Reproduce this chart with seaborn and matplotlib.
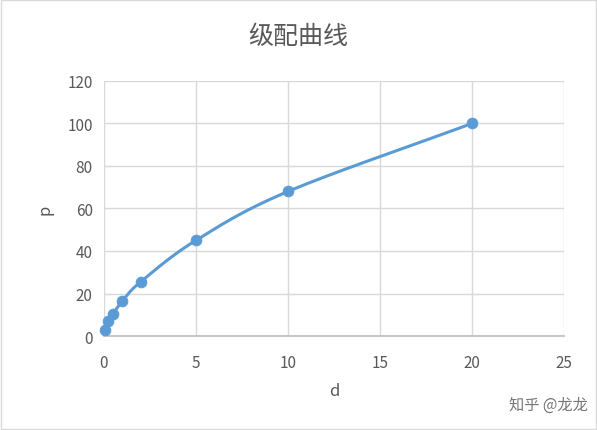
import numpy as np
import matplotlib
matplotlib.use("Agg")
import matplotlib.pyplot as plt
import seaborn as sns
import pandas as pd

d = [0.075, 0.25, 0.5, 1, 2, 5, 10, 20]
p = [3, 7, 10.5, 16.5, 25.5, 45, 68, 100]
title = "级配曲线"

sns.set_theme(style="white")
plt.rcParams['font.family'] = ['Noto Sans CJK SC', 'DejaVu Sans']

fig = plt.figure(figsize=(5.97, 4.31), dpi=100)
ax = fig.add_axes([0.174, 0.218, 0.771, 0.592])
c = "#5B9BD5"

# Catmull-Rom smooth curve through the points (like Excel smoothed line)
P = np.column_stack([d, p]).astype(float)
ext = np.vstack([2*P[0]-P[1], P, 2*P[-1]-P[-2]])
xs, ys = [], []
t = np.linspace(0, 1, 30)
for i in range(1, len(ext)-2):
    p0, p1, p2, p3 = ext[i-1], ext[i], ext[i+1], ext[i+2]
    pts = 0.5*((2*p1)[None] + np.outer(t, -p0+p2) + np.outer(t**2, 2*p0-5*p1+4*p2-p3) + np.outer(t**3, -p0+3*p1-3*p2+p3))
    xs.extend(pts[:, 0]); ys.extend(pts[:, 1])
ax.plot(xs, ys, color=c, lw=2.2, clip_on=False)
sns.scatterplot(data=pd.DataFrame({"d": d, "p": p}), x="d", y="p", ax=ax, color=c, s=60, edgecolor=c, zorder=3, clip_on=False)

ax.set_xlim(0, 25); ax.set_ylim(0, 120)
ax.set_xticks(range(0, 26, 5)); ax.set_yticks(range(0, 121, 20))
ax.grid(True, color="#D9D9D9", lw=1)
for s in ["top", "right", "left"]:
    ax.spines[s].set_visible(False)
ax.spines["bottom"].set_color("#BFBFBF")
ax.tick_params(colors="#595959", labelsize=11, length=0)
ax.tick_params(axis="x", pad=13)
ax.tick_params(axis="y", pad=8)
ax.set_xlabel("d", fontsize=12, color="#595959", labelpad=8)
ax.set_ylabel("p", fontsize=12, color="#595959", labelpad=10)
fig.text(0.5, 0.915, title, ha="center", va="center", fontsize=18, color="#595959")
fig.text(0.918, 0.06, "知乎 @龙龙", ha="center", va="center", fontsize=11, color="#777777")
fig.patches.append(plt.Rectangle((0.001, 0.002), 0.997, 0.996, transform=fig.transFigure, fill=False, ec="#D9D9D9", lw=1))
fig.savefig("out.png", dpi=100)
